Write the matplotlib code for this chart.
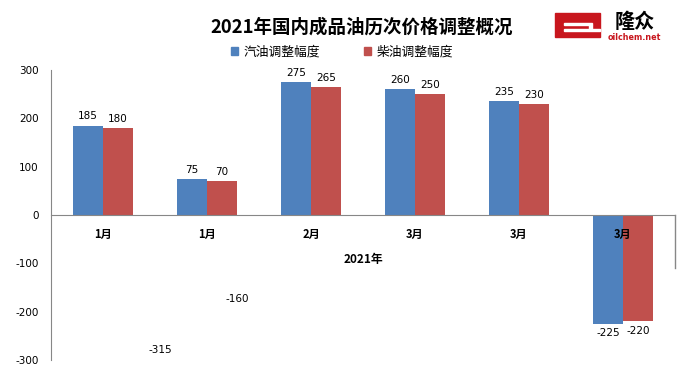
import matplotlib
matplotlib.use('Agg')
import matplotlib.pyplot as plt
from matplotlib.patches import Rectangle, Patch
import numpy as np

# ---- data ----
categories = ['1月', '1月', '2月', '3月', '3月', '3月']
gasoline = [185, 75, 275, 260, 235, -225]
diesel = [180, 70, 265, 250, 230, -220]
series_names = ['汽油调整幅度', '柴油调整幅度']
stray_labels = ['-315', '-160']
stray_x = [0.55, 1.29]
stray_y = [-279, -174]
yticks = [-300, -200, -100, 0, 100, 200, 300]
xlabel = '2021年'
title = '2021年国内成品油历次价格调整概况'

BLUE = '#4F81BD'
RED = '#C0504D'
GRAY = '#878787'

plt.rcParams['font.family'] = ['Noto Sans CJK SC', 'DejaVu Sans']
NUMFONT = ['DejaVu Sans']

fig = plt.figure(figsize=(6.8, 3.72), dpi=100)
ax = fig.add_axes([51/680, 12/372, 624/680, 290/372])

x = np.arange(len(categories))
w = 0.288
b1 = ax.bar(x - w/2, gasoline, w, color=BLUE, zorder=1)
b2 = ax.bar(x + w/2, diesel, w, color=RED, zorder=1)

ax.set_xlim(-0.5, len(categories) - 0.5)
ax.set_ylim(-300, 300)

# spines
for s in ['top', 'right']:
    ax.spines[s].set_visible(False)
ax.spines['left'].set_color(GRAY)
ax.spines['bottom'].set_color(GRAY)
ax.spines['bottom'].set_position(('data', 0))
ax.plot([len(categories) - 0.5] * 2, [0, -110], color=GRAY, lw=1, clip_on=False)

ax.set_yticks(yticks)
ax.set_yticklabels([str(v) for v in yticks], family=NUMFONT, fontsize=7.5)
ax.tick_params(axis='y', length=0, pad=9)
ax.set_xticks(x)
ax.set_xticklabels(categories, fontsize=8, fontweight='bold')
ax.tick_params(axis='x', length=0, pad=9)
ax.set_xlabel(xlabel, fontsize=8.5, fontweight='bold', labelpad=9)

# value labels
for bars, vals in [(b1, gasoline), (b2, diesel)]:
    for bar, v in zip(bars, vals):
        cx = bar.get_x() + bar.get_width() / 2
        if v >= 0:
            ax.annotate(str(v), (cx, v), xytext=(0, 3), textcoords='offset points',
                        ha='center', va='bottom', family=NUMFONT, fontsize=7.5)
        else:
            ax.annotate(str(v), (cx, v), xytext=(0, -3), textcoords='offset points',
                        ha='center', va='top', family=NUMFONT, fontsize=7.5)

for t, sx, sy in zip(stray_labels, stray_x, stray_y):
    ax.text(sx, sy, t, ha='center', va='center', family=NUMFONT, fontsize=7.5)

# title
fig.text(362/680, 1 - 27/372, title, ha='center', va='center',
         fontsize=13.3, fontweight='bold')

# legend
handles = [Patch(color=BLUE), Patch(color=RED)]
fig.legend(handles, series_names, loc='center', bbox_to_anchor=(342/680, 1 - 52/372),
           ncol=2, frameon=False, fontsize=9.2, handlelength=0.55, handleheight=0.55,
           columnspacing=3.4, handletextpad=0.45)

# logo
def fx(px):
    return px / 680
def fy(py):
    return 1 - py / 372
fig.patches.append(Rectangle((fx(555), fy(37)), 45/680, 24/372, transform=fig.transFigure,
                             color='#C8161D', zorder=5))
fig.patches.append(Rectangle((fx(564), fy(25)), 28/680, 2.5/372, transform=fig.transFigure,
                             color='white', zorder=6))
fig.patches.append(Rectangle((fx(564), fy(31)), 36/680, 2.5/372, transform=fig.transFigure,
                             color='white', zorder=6))
fig.patches.append(Rectangle((fx(589), fy(29)), 3/680, 4/372, transform=fig.transFigure,
                             color='white', zorder=6))
fig.text(fx(635), fy(21), '隆众', ha='center', va='center', fontsize=14.5, fontweight='bold',
         color='black')
fig.text(fx(634), fy(37), 'oilchem.net', ha='center', va='center', fontsize=5.8,
         fontweight='bold', color='#C8161D', family=NUMFONT)

fig.savefig('out.png', dpi=100)
